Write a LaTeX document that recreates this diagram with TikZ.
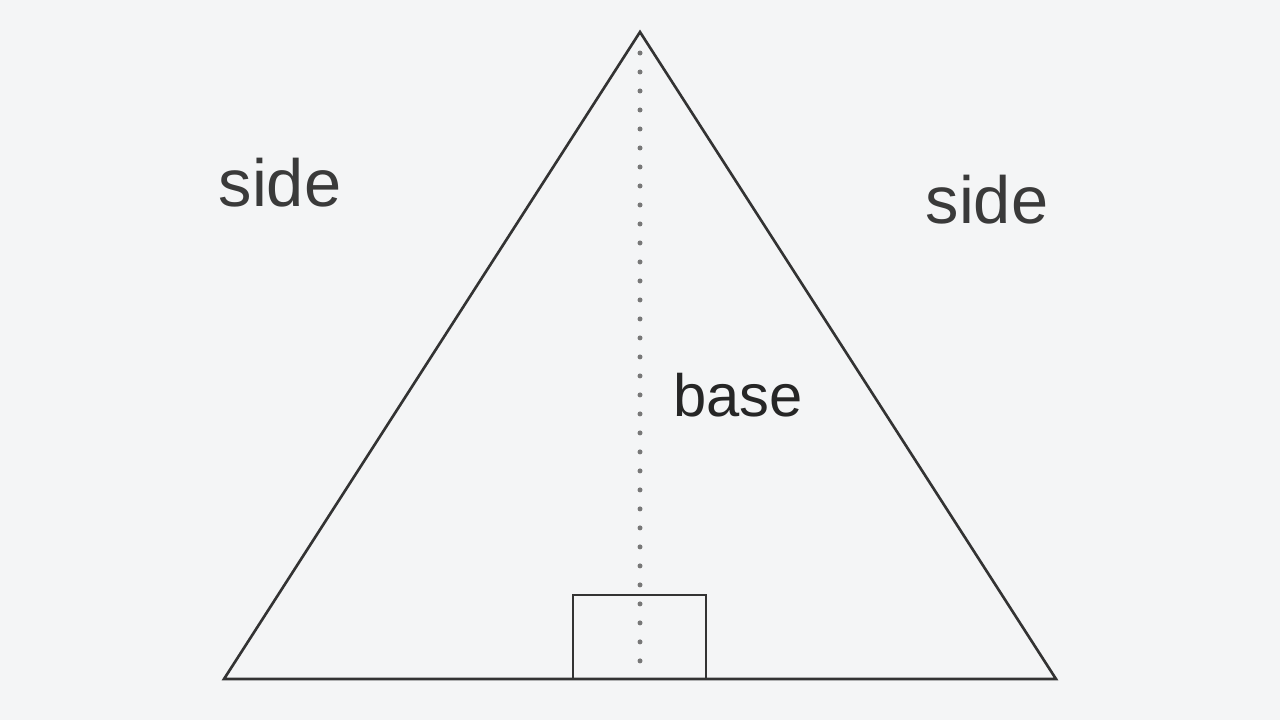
\documentclass[tikz,border=0pt]{standalone}
\usepackage{fontspec}
\setmainfont{Liberation Sans}
\definecolor{bgcol}{HTML}{F4F5F6}
\definecolor{edgecol}{HTML}{333333}
\definecolor{dotcol}{HTML}{777777}
\definecolor{labcol}{HTML}{3A3A3A}
\tikzset{
  edge/.style={draw=edgecol,line width=1.5pt,line join=miter},
  dots/.style={draw=dotcol,line width=0.1cm,line cap=round,dash pattern=on 0pt off 0.38cm},
  lab/.style={text=labcol,font=\fontsize{38}{40}\selectfont,inner sep=0pt}
}
\begin{document}
\begin{tikzpicture}[x=0.02cm,y=-0.02cm]
  \fill[bgcol] (0,0) rectangle (1280,720);
  \useasboundingbox (0,0) rectangle (1280,720);
  \coordinate (apex) at (640,32);
  \coordinate (bl) at (224,679);
  \coordinate (br) at (1056,679);
  \coordinate (top) at (640,53);
  \coordinate (foot) at (640,665);
  \draw[edge] (apex) -- (bl) -- (br) -- cycle;
  \draw[edge] (573,679) |- (706,595) -- (706,679);
  \draw[dots] (top) -- (foot);
  \node[lab] (sideL) at (280,183) {side};
  \node[lab] (sideR) at (987,200) {side};
  \node[lab,text=black!85,font=\fontsize{34}{36}\selectfont] (base) at (738,395) {base};
\end{tikzpicture}
\end{document}
